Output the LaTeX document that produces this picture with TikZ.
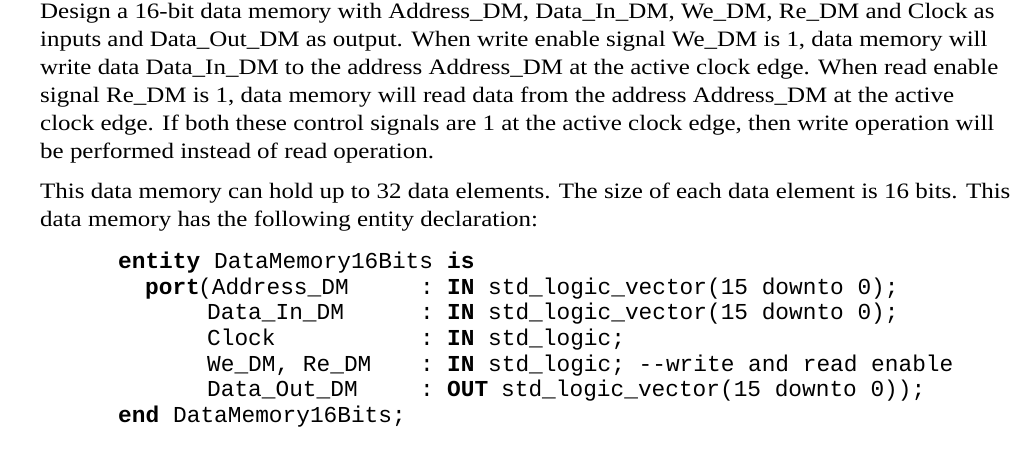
\documentclass[tikz,border=0pt]{standalone}
\usepackage{fontspec}
\setmainfont{Liberation Serif}[FakeStretch=1.135]
\setmonofont{Liberation Mono}
\begin{document}
\begin{tikzpicture}[x=1pt,y=-1pt,
  tl/.style={anchor=base west,inner sep=0pt,font=\fontsize{22}{26}\selectfont},
  cl/.style={anchor=base west,inner sep=0pt,font=\fontsize{22.8}{26}\ttfamily}]
\useasboundingbox (0,0) rectangle (1024,455);
\node[tl] (p1) at (40,18) {Design a 16-bit data memory with Address\_DM, Data\_In\_DM, We\_DM, Re\_DM and Clock as};
\node[tl] (p2) at (40,46) {inputs and Data\_Out\_DM as output. When write enable signal We\_DM is 1, data memory will};
\node[tl] (p3) at (40,74) {write data Data\_In\_DM to the address Address\_DM at the active clock edge. When read enable};
\node[tl] (p4) at (40,102) {signal Re\_DM is 1, data memory will read data from the address Address\_DM at the active};
\node[tl] (p5) at (40,130) {clock edge. If both these control signals are 1 at the active clock edge, then write operation will};
\node[tl] (p6) at (40,158) {be performed instead of read operation.};
\node[tl] (q1) at (40,198) {This data memory can hold up to 32 data elements. The size of each data element is 16 bits. This};
\node[tl] (q2) at (40,226) {data memory has the following entity declaration:};
% code
\node[cl] (c1a) at (118,268) {\bfseries entity};
\node[cl] (c1b) at (214,268) {DataMemory16Bits};
\node[cl] (c1c) at (447,268) {\bfseries is};
\node[cl] (c2a) at (145,294) {\bfseries port};
\node[cl] (c2b) at (198,294) {(Address\_DM};
\node[cl] (c2c) at (420,294) {:};
\node[cl] (c2d) at (447,294) {\bfseries IN};
\node[cl] (c2e) at (488,294) {std\_logic\_vector(15 downto 0);};
\node[cl] (c3b) at (207,319) {Data\_In\_DM};
\node[cl] (c3c) at (420,319) {:};
\node[cl] (c3d) at (447,319) {\bfseries IN};
\node[cl] (c3e) at (488,319) {std\_logic\_vector(15 downto 0);};
\node[cl] (c4b) at (207,345) {Clock};
\node[cl] (c4c) at (420,345) {:};
\node[cl] (c4d) at (447,345) {\bfseries IN};
\node[cl] (c4e) at (488,345) {std\_logic;};
\node[cl] (c5b) at (207,371) {We\_DM, Re\_DM};
\node[cl] (c5c) at (420,371) {:};
\node[cl] (c5d) at (447,371) {\bfseries IN};
\node[cl] (c5e) at (488,371) {std\_logic; -{}-write and read enable};
\node[cl] (c6b) at (207,396) {Data\_Out\_DM};
\node[cl] (c6c) at (420,396) {:};
\node[cl] (c6d) at (447,396) {\bfseries OUT};
\node[cl] (c6e) at (501,396) {std\_logic\_vector(15 downto 0));};
\node[cl] (c7a) at (118,422) {\bfseries end};
\node[cl] (c7b) at (173,422) {DataMemory16Bits;};
\end{tikzpicture}
\end{document}
